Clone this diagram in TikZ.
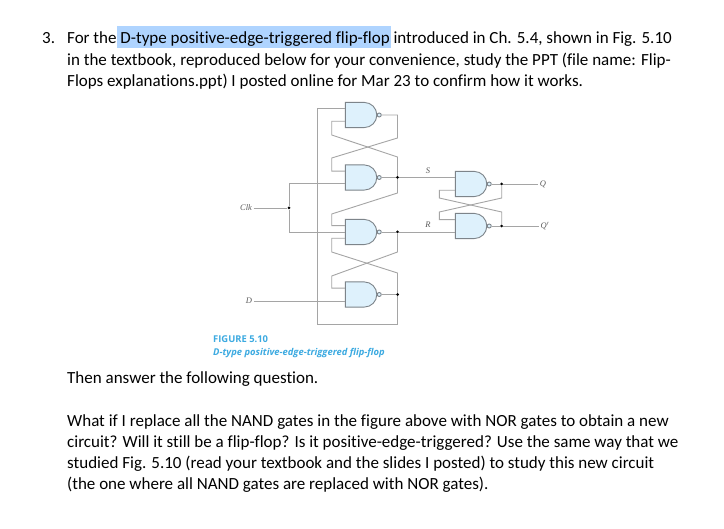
\documentclass[tikz,border=0pt]{standalone}
\usepackage{fontspec}
\setmainfont[Ligatures=NoCommon]{Carlito}
\newfontfamily\capfont{Open Sans}
\newfontfamily\labelfont{Liberation Serif}
\usetikzlibrary{shapes.gates.logic.US}
\definecolor{wireGray}{RGB}{165, 165, 165}
\definecolor{gateBlue}{RGB}{222, 241, 252}
\definecolor{gateEdge}{RGB}{125, 132, 138}
\definecolor{markBlue}{RGB}{175, 212, 255}
\definecolor{figBlue}{RGB}{60, 170, 225}
\definecolor{labelGray}{RGB}{90, 90, 90}

\begin{document}
\begin{tikzpicture}[x=1pt, y=-1pt]
    % Styles
    \tikzstyle{gate} = [shape=nand gate US, draw=gateEdge, fill=gateBlue, line width=0.9pt, logic gate inputs=nnn, inner sep=0pt, minimum width=27pt, minimum height=22pt, logic gate input sep=6.3pt]
    \tikzstyle{wire} = [draw=wireGray, line width=0.9pt]
    \tikzstyle{dot} = [circle, fill=black, inner sep=0pt, minimum size=3pt]
    \tikzstyle{sig} = [font=\labelfont\itshape\fontsize{8.5}{10}\selectfont, text=labelGray, inner sep=1.5pt]
    \tikzstyle{textline} = [anchor=base west, inner sep=0pt, font=\fontsize{17}{20}\selectfont, text=black]
    \tikzstyle{figcap} = [anchor=base west, inner sep=0pt, text=figBlue]

    \useasboundingbox (0,0) rectangle (724,529);
    \fill[white] (0,0) rectangle (724,529);

    % Question text
    \fill[markBlue] (117,26) rectangle (391,48);
    \node[textline] (num) at (42,44) {3.};
    \node[textline] (q1) at (67,44) {For the D-type positive-edge-triggered flip-flop introduced in Ch. 5.4, shown in Fig. 5.10};
    \node[textline] (q2) at (67,66) {in the textbook, reproduced below for your convenience, study the PPT (file name: Flip-};
    \node[textline] (q3) at (67,87) {Flops explanations.ppt) I posted online for Mar 23 to confirm how it works.};

    % Gates
    \node[gate] (a) at (360,115) {};
    \node[gate] (b) at (360,177.5) {};
    \node[gate] (c) at (360,232) {};
    \node[gate] (d) at (360,294.5) {};
    \node[gate] (e) at (470,184) {};
    \node[gate] (f) at (470,226) {};

    % Junctions
    \node[dot] (clkdot) at (289,208) {};
    \node[dot] (sdot) at (397.5,177.5) {};
    \node[dot] (rdot) at (397.5,232) {};
    \node[dot] (ddot) at (397.5,294.5) {};
    \node[dot] (qdot) at (501.7,184) {};
    \node[dot] (qpdot) at (501.7,226) {};

    % Signals
    \node[sig] (clk) at (246,208) {Clk};
    \node[sig] (din) at (249,301) {D};
    \node[sig] (s) at (428,170.5) {S};
    \node[sig] (r) at (428,225) {R};
    \node[sig] (q) at (543,184) {Q};
    \node[sig] (qp) at (545,226) {Q$'$};

    % Inputs
    \draw[wire] (clk) -- (clkdot);
    \draw[wire] (clkdot) |- (b.input 3);
    \draw[wire] (clkdot) |- (c.input 2);
    \draw[wire] (din) -- (din -| d.input 3);
    \draw[wire] (sdot) -- (sdot -| e.input 1);
    \draw[wire] (rdot) -- (rdot -| f.input 3);

    % Left cross coupled pairs
    \draw[wire] (a.output) -| (397.5,138) -- (331.7,158) |- (b.input 1);
    \draw[wire] (a.input 3) -| (331.7,135) -- (397.5,157) -- (sdot);
    \draw[wire] (b.output) -- (sdot);
    \draw[wire] (sdot) -- (397.5,193) -- (331.7,214) |- (c.input 1);
    \draw[wire] (c.output) -- (rdot);
    \draw[wire] (rdot) -- (397.5,252) -- (331.7,276) |- (d.input 1);
    \draw[wire] (c.input 3) -| (331.7,252) -- (397.5,273) -- (ddot);
    \draw[wire] (d.output) -- (ddot);
    \draw[wire] (ddot) |- (317.3,324) |- (a.input 1);

    % Output latch
    \draw[wire] (e.output) -- (qdot);
    \draw[wire] (qdot) -- (q);
    \draw[wire] (f.output) -- (qpdot);
    \draw[wire] (qpdot) -- (qp);
    \draw[wire] (qdot) -- (501.7,198) -- (439.3,212) |- (f.input 1);
    \draw[wire] (e.input 3) -| (439.3,198) -- (501.7,212) -- (qpdot);

    % Caption
    \node[figcap, font=\capfont\bfseries\fontsize{9.4}{11}\selectfont] (figno) at (213,343) {FIGURE 5.10};
    \node[figcap, font=\capfont\bfseries\itshape\fontsize{9.4}{11}\selectfont] (figname) at (213,356) {D-type positive-edge-triggered flip-flop};

    % Rest of the text
    \node[textline] (then) at (67,384) {Then answer the following question.};
    \node[textline] (w1) at (67,427) {What if I replace all the NAND gates in the figure above with NOR gates to obtain a new};
    \node[textline] (w2) at (67,448) {circuit? Will it still be a flip-flop? Is it positive-edge-triggered? Use the same way that we};
    \node[textline] (w3) at (67,469) {studied Fig. 5.10 (read your textbook and the slides I posted) to study this new circuit};
    \node[textline] (w4) at (67,490) {(the one where all NAND gates are replaced with NOR gates).};
\end{tikzpicture}
\end{document}
